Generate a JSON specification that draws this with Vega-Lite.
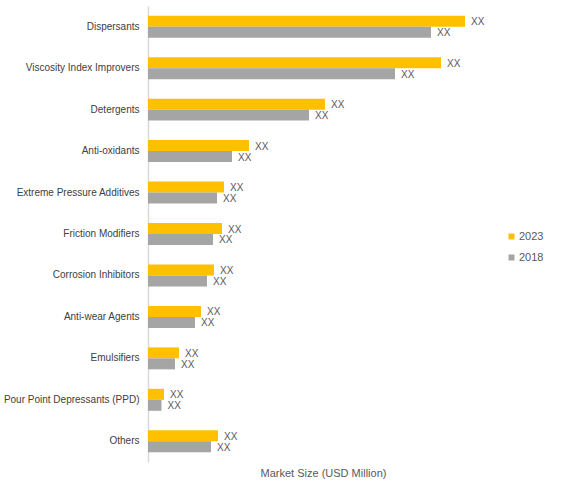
{
  "$schema": "https://vega.github.io/schema/vega-lite/v6.json",
  "width": 350,
  "height": 456,
  "autosize": {"type": "none"},
  "padding": {"left": 148, "top": 6, "right": 68, "bottom": 29},
  "background": "white",
  "config": {
    "font": "Liberation Sans",
    "view": {"stroke": null}
  },
  "data": {
    "values": [
      {"segment": "Dispersants", "year": "2023", "value": 317},
      {"segment": "Dispersants", "year": "2018", "value": 283},
      {"segment": "Viscosity Index Improvers", "year": "2023", "value": 293},
      {"segment": "Viscosity Index Improvers", "year": "2018", "value": 247},
      {"segment": "Detergents", "year": "2023", "value": 177},
      {"segment": "Detergents", "year": "2018", "value": 161},
      {"segment": "Anti-oxidants", "year": "2023", "value": 101},
      {"segment": "Anti-oxidants", "year": "2018", "value": 84},
      {"segment": "Extreme Pressure Additives", "year": "2023", "value": 76},
      {"segment": "Extreme Pressure Additives", "year": "2018", "value": 69},
      {"segment": "Friction Modifiers", "year": "2023", "value": 74},
      {"segment": "Friction Modifiers", "year": "2018", "value": 65},
      {"segment": "Corrosion Inhibitors", "year": "2023", "value": 66},
      {"segment": "Corrosion Inhibitors", "year": "2018", "value": 59},
      {"segment": "Anti-wear Agents", "year": "2023", "value": 53},
      {"segment": "Anti-wear Agents", "year": "2018", "value": 47},
      {"segment": "Emulsifiers", "year": "2023", "value": 31},
      {"segment": "Emulsifiers", "year": "2018", "value": 27},
      {"segment": "Pour Point Depressants (PPD)", "year": "2023", "value": 16},
      {"segment": "Pour Point Depressants (PPD)", "year": "2018", "value": 13.5},
      {"segment": "Others", "year": "2023", "value": 70},
      {"segment": "Others", "year": "2018", "value": 63}
    ]
  },
  "encoding": {
    "y": {
      "field": "segment",
      "type": "nominal",
      "sort": null,
      "title": null,
      "scale": {"paddingInner": 0.47, "paddingOuter": 0.235},
      "axis": {
        "ticks": false,
        "labelPadding": 9,
        "labelFontSize": 10,
        "labelColor": "#404040",
        "domainColor": "#d9d9d9",
        "domainWidth": 1.5
      }
    },
    "yOffset": {
      "field": "year",
      "type": "nominal",
      "sort": ["2023", "2018"],
      "scale": {"paddingInner": 0, "paddingOuter": 0}
    },
    "x": {
      "field": "value",
      "type": "quantitative",
      "scale": {"domain": [0, 350], "nice": false},
      "title": "Market Size (USD Million)",
      "axis": {
        "labels": false,
        "ticks": false,
        "domain": false,
        "grid": false,
        "titleFontSize": 11,
        "titleFontWeight": "normal",
        "titleColor": "#595959",
        "titlePadding": 5
      }
    }
  },
  "layer": [
    {
      "mark": {"type": "bar"},
      "encoding": {
        "color": {
          "field": "year",
          "type": "nominal",
          "sort": ["2023", "2018"],
          "scale": {"domain": ["2023", "2018"], "range": ["#FFC000", "#A5A5A5"]},
          "legend": {
            "title": null,
            "orient": "none",
            "legendX": 358,
            "legendY": 225,
            "symbolType": "square",
            "symbolSize": 36,
            "symbolStrokeWidth": 0,
            "labelFontSize": 11,
            "labelColor": "#595959",
            "labelOffset": 2,
            "rowPadding": 9
          }
        }
      }
    },
    {
      "mark": {"type": "text", "align": "left", "dx": 6, "dy": 1, "fontSize": 10, "color": "#595959"},
      "encoding": {
        "text": {"value": "XX"}
      }
    }
  ]
}
